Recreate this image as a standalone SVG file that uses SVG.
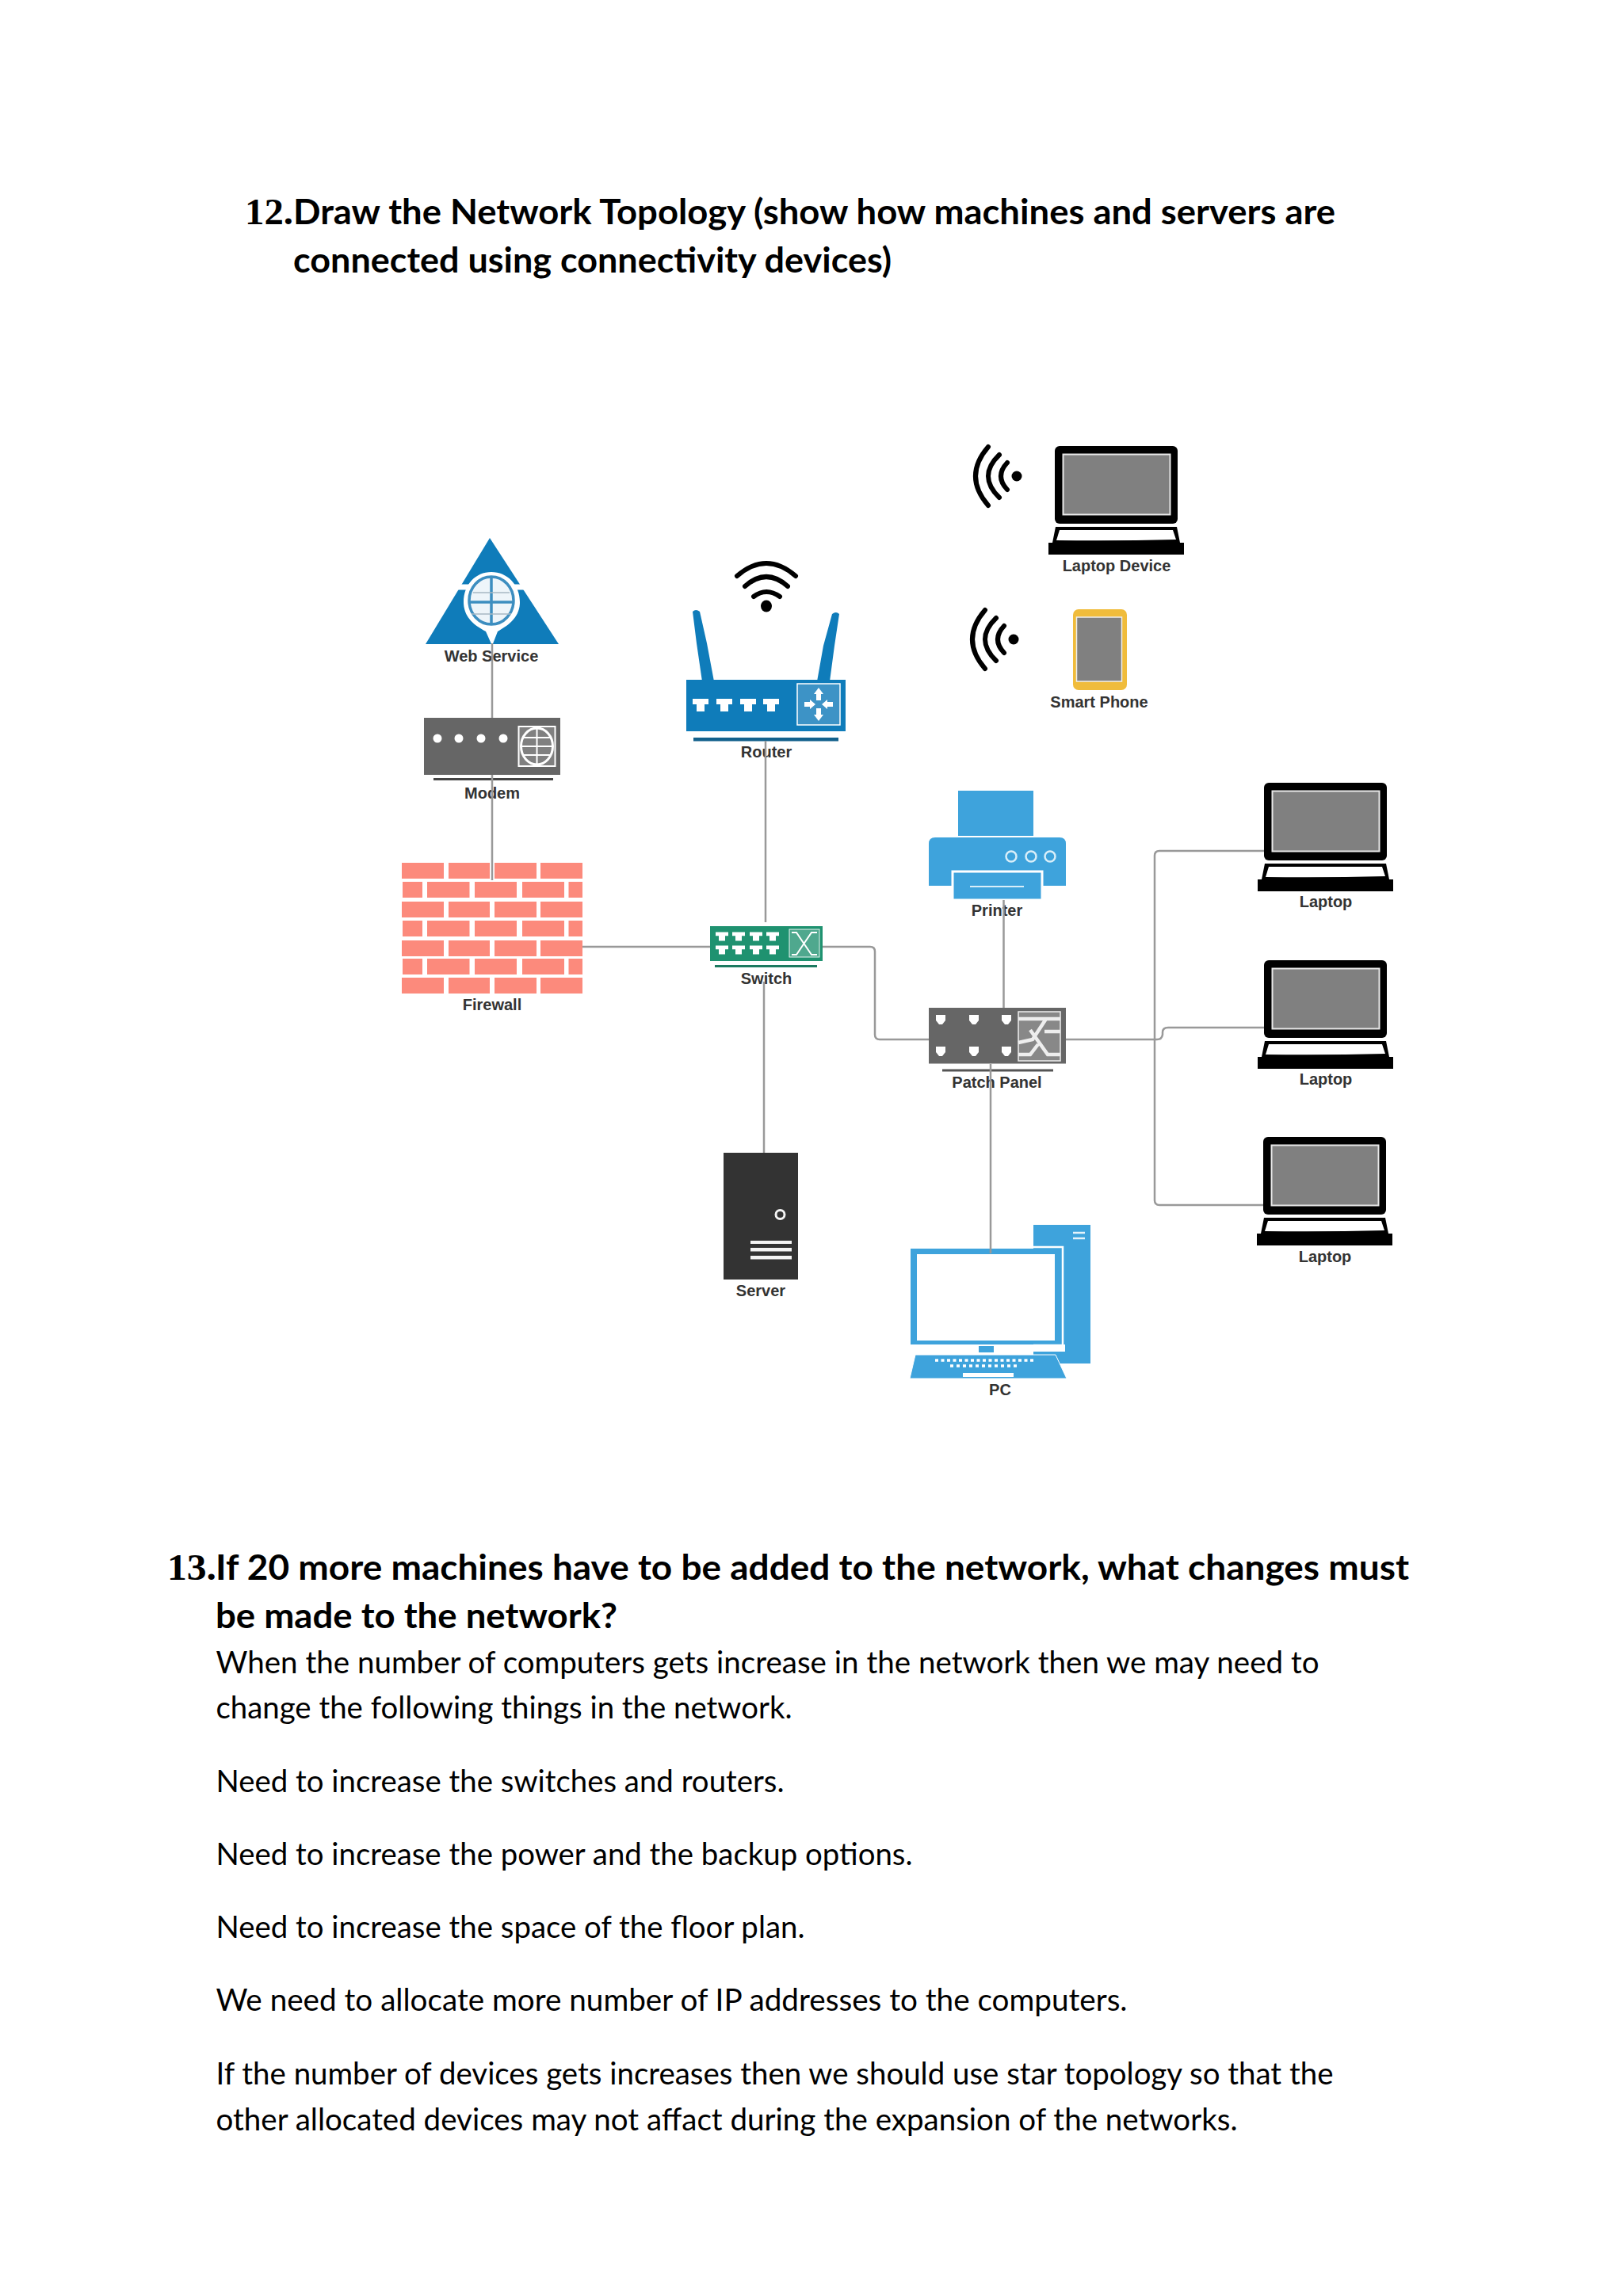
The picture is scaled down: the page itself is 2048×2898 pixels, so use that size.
<svg xmlns="http://www.w3.org/2000/svg" xmlns:xlink="http://www.w3.org/1999/xlink" width="2048" height="2898" viewBox="0 0 2048 2898">
<style>
.lbl{font-family:"Liberation Sans",Arial,sans-serif;font-weight:bold;font-size:20px;fill:#333;text-anchor:middle}
.h{font-family:Lato,"Open Sans",sans-serif;font-weight:bold;font-size:44px;fill:#000}
.n{font-family:"Liberation Serif",serif;font-weight:bold;font-size:46px;fill:#000}
.b{font-family:Lato,"Open Sans",sans-serif;font-size:38px;fill:#000}
.wire{fill:none;stroke:#999;stroke-width:2.5}
.arc{fill:none;stroke:#000;stroke-width:6;stroke-linecap:round}
.brick{fill:#fc8a7c}
</style>
<defs>
<g id="laptop">
<rect x="0" y="0" width="155" height="98" rx="6" fill="#000"/>
<rect x="10.500" y="10.500" width="135" height="76" fill="#808080" stroke="#e8e8e8" stroke-width="2"/>
<path d="M1,102H154L158,122H163V137H-8V122H-3Z" fill="#000"/>
<path d="M6,106H149L153,118Q78,120 2,119Z" fill="#fff"/>
</g>
<g id="wifiL">
<circle cx="0" cy="0" r="6.500" fill="#000"/>
<path class="arc" d="M-12,-17Q-28,0 -12,17"/>
<path class="arc" d="M-22,-27Q-50,0 -22,27"/>
<path class="arc" d="M-36,-37Q-68,0 -36,37"/>
</g>
<path id="tport" d="M-10,-8H10V-1H5V8H-5V-1H-10Z" fill="#fff"/>
<path id="pport" d="M-6,-6H6V1L2,6H-2L-6,1Z" fill="#fff"/>
<g id="row1">
<rect class="brick" x="0" width="53" height="20"/><rect class="brick" x="59" width="52" height="20"/><rect class="brick" x="117" width="53" height="20"/><rect class="brick" x="175" width="53" height="20"/>
</g>
<g id="row2">
<rect class="brick" x="1" width="25" height="20"/><rect class="brick" x="32" width="53.500" height="20"/><rect class="brick" x="92" width="53" height="20"/><rect class="brick" x="152" width="53" height="20"/><rect class="brick" x="210.500" width="17.500" height="20"/>
</g>
</defs>
<rect width="2048" height="2898" fill="#fff"/>

<g id="heading-12">
<text class="n" x="309" y="283" textLength="61" lengthAdjust="spacingAndGlyphs">12.</text>
<text class="h" x="370" y="283" textLength="1315" lengthAdjust="spacingAndGlyphs">Draw the Network Topology (show how machines and servers are</text>
<text class="h" x="370" y="344" textLength="755" lengthAdjust="spacingAndGlyphs">connected using connectivity devices)</text>
</g>

<g id="web-service">
<path d="M618,679L705,813H537Z" fill="#0f7cba"/>
<path d="M572,741H668" stroke="#fff" stroke-width="7"/>
<path d="M620,722C640,722 656,738 656,760C656,780 640,790 628,797L621,815L613,797C600,790 585,780 585,760C585,738 600,722 620,722Z" fill="#fff"/>
<ellipse cx="620" cy="758" rx="28" ry="30" fill="#eef5fa" stroke="#3d8ec0" stroke-width="3.500"/>
<path d="M620,728V788M592,760H648" stroke="#3d8ec0" stroke-width="3.500" fill="none"/>
<path d="M597,748H643M595,775H645" stroke="#a8b8c4" stroke-width="1.500" fill="none"/>
<text class="lbl" x="620" y="835">Web Service</text>
</g>

<g id="modem">
<rect x="535" y="906" width="172" height="72" fill="#666"/>
<circle cx="552" cy="932" r="5.500" fill="#fff"/><circle cx="579" cy="932" r="5.500" fill="#fff"/><circle cx="607" cy="932" r="5.500" fill="#fff"/><circle cx="635" cy="932" r="5.500" fill="#fff"/>
<rect x="654.500" y="917" width="46" height="50" fill="#808080" stroke="#fff" stroke-width="2"/>
<ellipse cx="677.500" cy="942" rx="20" ry="23" fill="none" stroke="#fff" stroke-width="3"/>
<path d="M677.500,919V965M657,942H698M660,931H695M660,953H695" stroke="#fff" stroke-width="2" fill="none"/>
<rect x="547" y="982" width="151" height="3" fill="#444"/>
<text class="lbl" x="621" y="1008">Modem</text>
</g>

<g id="router">
<path d="M874,772Q878,768 883,772L892,812L901,860H886L879,812Z" fill="#0f7cba"/>
<path d="M1050,775Q1055,771 1059,775L1053,815L1047,860H1031L1039,815Z" fill="#0f7cba"/>
<rect x="866" y="858" width="201" height="65" fill="#0f7cba"/>
<use xlink:href="#tport" href="#tport" x="884" y="890"/><use xlink:href="#tport" href="#tport" x="914" y="890"/><use xlink:href="#tport" href="#tport" x="944" y="890"/><use xlink:href="#tport" href="#tport" x="973" y="890"/>
<rect x="1006" y="863" width="54" height="52" fill="#3d93c6" stroke="#fff" stroke-width="1.500"/>
<path d="M1033,868L1039,876H1036V884H1030V876H1027ZM1033,910L1039,902H1036V894H1030V902H1027ZM1029,889L1022,883V886H1015V892H1022V895ZM1037,889L1044,883V886H1051V892H1044V895Z" fill="#fff"/>
<rect x="875" y="931" width="183" height="4.500" fill="#13618c"/>
<text class="lbl" x="967" y="956">Router</text>
<ellipse cx="967" cy="765" rx="7" ry="7.500" fill="#000"/>
<path class="arc" d="M951,753Q967,741 984,753"/>
<path class="arc" d="M940,740Q967,716 994,740"/>
<path class="arc" d="M930,727Q967,695 1004,727"/>
</g>

<g id="laptop-device">
<use xlink:href="#wifiL" href="#wifiL" x="1283" y="601"/>
<use xlink:href="#laptop" href="#laptop" x="1331" y="563"/>
<text class="lbl" x="1409" y="721">Laptop Device</text>
</g>

<g id="smart-phone">
<use xlink:href="#wifiL" href="#wifiL" x="1279" y="807"/>
<rect x="1354" y="769" width="68" height="102" rx="7" fill="#f0bc3c"/>
<rect x="1358.500" y="779" width="57" height="81" fill="#808080" stroke="#eee" stroke-width="1.500"/>
<text class="lbl" x="1387" y="893">Smart Phone</text>
</g>

<g id="firewall">
<use xlink:href="#row1" href="#row1" x="507" y="1089"/>
<use xlink:href="#row2" href="#row2" x="507" y="1113"/>
<use xlink:href="#row1" href="#row1" x="507" y="1138"/>
<use xlink:href="#row2" href="#row2" x="507" y="1162"/>
<use xlink:href="#row1" href="#row1" x="507" y="1187"/>
<use xlink:href="#row2" href="#row2" x="507" y="1210"/>
<use xlink:href="#row1" href="#row1" x="507" y="1234"/>
<text class="lbl" x="621" y="1275">Firewall</text>
</g>

<g id="switch">
<rect x="896" y="1169" width="142" height="44" fill="#1f9270"/>
<g transform="translate(911,1182) scale(.8,.7)"><use xlink:href="#tport" href="#tport"/></g>
<g transform="translate(932,1182) scale(.8,.7)"><use xlink:href="#tport" href="#tport"/></g>
<g transform="translate(954,1182) scale(.8,.7)"><use xlink:href="#tport" href="#tport"/></g>
<g transform="translate(975,1182) scale(.8,.7)"><use xlink:href="#tport" href="#tport"/></g>
<g transform="translate(911,1199) scale(.8,.7)"><use xlink:href="#tport" href="#tport"/></g>
<g transform="translate(932,1199) scale(.8,.7)"><use xlink:href="#tport" href="#tport"/></g>
<g transform="translate(954,1199) scale(.8,.7)"><use xlink:href="#tport" href="#tport"/></g>
<g transform="translate(975,1199) scale(.8,.7)"><use xlink:href="#tport" href="#tport"/></g>
<rect x="996" y="1173" width="38" height="35" fill="#4fa88e" stroke="#e8f4f0" stroke-width="1"/>
<path d="M999,1177H1005L1024,1205H1031M999,1205H1005L1024,1177H1031" stroke="#fff" stroke-width="2" fill="none"/>
<rect x="902" y="1218" width="129" height="3" fill="#1c7a60"/>
<text class="lbl" x="967" y="1242">Switch</text>
</g>

<g id="printer">
<rect x="1209" y="998" width="95" height="57" fill="#3ea3dc"/>
<path d="M1172,1065Q1172,1057 1180,1057H1337Q1345,1057 1345,1065V1118H1172Z" fill="#3ea3dc"/>
<circle cx="1276" cy="1081" r="6.500" fill="#3ea3dc" stroke="#d8eef9" stroke-width="2.500"/>
<circle cx="1301" cy="1081" r="6.500" fill="#3ea3dc" stroke="#d8eef9" stroke-width="2.500"/>
<circle cx="1325" cy="1081" r="6.500" fill="#3ea3dc" stroke="#d8eef9" stroke-width="2.500"/>
<rect x="1202" y="1100" width="113" height="36" fill="#3ea3dc" stroke="#fff" stroke-width="3"/>
<path d="M1224,1119H1292" stroke="#d8eef9" stroke-width="2"/>
<text class="lbl" x="1258" y="1156">Printer</text>
</g>

<g id="patch-panel">
<rect x="1172" y="1272" width="173" height="70.500" fill="#666"/>
<use xlink:href="#pport" href="#pport" x="1187" y="1287"/><use xlink:href="#pport" href="#pport" x="1229" y="1287"/><use xlink:href="#pport" href="#pport" x="1270" y="1287"/>
<use xlink:href="#pport" href="#pport" x="1187" y="1327"/><use xlink:href="#pport" href="#pport" x="1229" y="1327"/><use xlink:href="#pport" href="#pport" x="1270" y="1327"/>
<rect x="1285" y="1277" width="53" height="62" fill="#888" stroke="#eee" stroke-width="1.500"/>
<path d="M1285,1286H1338M1320,1286L1303,1312L1285,1316M1300,1300L1322,1331H1338M1285,1331H1300L1310,1318M1318,1302H1338" stroke="#eee" stroke-width="4.500" fill="none"/>
<rect x="1189" y="1349.500" width="140" height="3" fill="#555"/>
<text class="lbl" x="1258" y="1373">Patch Panel</text>
</g>

<g id="server">
<rect x="913" y="1455" width="94" height="160" fill="#333"/>
<circle cx="984.500" cy="1533" r="5.500" fill="#333" stroke="#f4f4f4" stroke-width="3"/>
<rect x="947" y="1566" width="52" height="4" fill="#f4f4f4"/><rect x="947" y="1575" width="52" height="4.500" fill="#f4f4f4"/><rect x="947" y="1585" width="52" height="4.500" fill="#f4f4f4"/>
<text class="lbl" x="960" y="1636">Server</text>
</g>

<g id="laptop-1">
<use xlink:href="#laptop" href="#laptop" x="1595" y="988"/>
<text class="lbl" x="1673" y="1145">Laptop</text>
</g>
<g id="laptop-2">
<use xlink:href="#laptop" href="#laptop" x="1595" y="1212"/>
<text class="lbl" x="1673" y="1369">Laptop</text>
</g>
<g id="laptop-3">
<use xlink:href="#laptop" href="#laptop" x="1594" y="1435"/>
<text class="lbl" x="1672" y="1593">Laptop</text>
</g>

<g id="pc">
<rect x="1304" y="1546" width="72" height="175" fill="#3ea3dc"/>
<path d="M1354,1556H1369M1354,1563H1369" stroke="#e4f3fb" stroke-width="2.500"/>
<rect x="1304" y="1697" width="40" height="9" fill="#fff"/>
<rect x="1149" y="1576" width="191" height="121" fill="#3ea3dc"/>
<path d="M1304,1574H1341V1698H1304" stroke="#fff" stroke-width="2.500" fill="none"/>
<rect x="1157" y="1583" width="174" height="109" fill="#fff"/>
<rect x="1235" y="1699" width="19" height="8" fill="#3ea3dc"/>
<path d="M1155,1710H1332L1346,1740H1148Z" fill="#3ea3dc" stroke="#fff" stroke-width="1"/>
<path d="M1180,1717H1304" stroke="#fff" stroke-width="3.500" stroke-dasharray="4 3.500" fill="none"/>
<path d="M1199,1724H1287" stroke="#fff" stroke-width="3.500" stroke-dasharray="4 4" fill="none"/>
<rect x="1215" y="1733" width="64" height="5" fill="#fff"/>
<text class="lbl" x="1262" y="1761">PC</text>
</g>

<g id="connectors">
<path class="wire" d="M621,812V906"/>
<path class="wire" d="M621,978V1111"/>
<path class="wire" d="M966,935V1164"/>
<path class="wire" d="M735,1195H896"/>
<path class="wire" d="M1038,1195H1098Q1104,1195 1104,1201V1306Q1104,1312 1110,1312H1172"/>
<path class="wire" d="M964,1239V1455"/>
<path class="wire" d="M1266.500,1136V1272"/>
<path class="wire" d="M1250,1343V1582"/>
<path class="wire" d="M1345,1312H1460Q1466,1312 1467,1306V1303Q1467,1297 1474,1297H1595"/>
<path class="wire" d="M1595,1074H1463Q1457,1074 1457,1080V1515Q1457,1521 1463,1521H1594"/>
</g>

<g id="heading-13">
<text class="n" x="211" y="1994" textLength="62" lengthAdjust="spacingAndGlyphs">13.</text>
<text class="h" x="272" y="1994" textLength="1506" lengthAdjust="spacingAndGlyphs">If 20 more machines have to be added to the network, what changes must</text>
<text class="h" x="272" y="2055" textLength="507" lengthAdjust="spacingAndGlyphs">be made to the network?</text>
</g>
<g id="answer">
<text class="b" x="272.500" y="2112" textLength="1392" lengthAdjust="spacingAndGlyphs">When the number of computers gets increase in the network then we may need to</text>
<text class="b" x="272.500" y="2169" textLength="727" lengthAdjust="spacingAndGlyphs">change the following things in the network.</text>
<text class="b" x="272.500" y="2262" textLength="717" lengthAdjust="spacingAndGlyphs">Need to increase the switches and routers.</text>
<text class="b" x="272.500" y="2354" textLength="879" lengthAdjust="spacingAndGlyphs">Need to increase the power and the backup options.</text>
<text class="b" x="272.500" y="2446" textLength="743" lengthAdjust="spacingAndGlyphs">Need to increase the space of the floor plan.</text>
<text class="b" x="272.500" y="2538" textLength="1150" lengthAdjust="spacingAndGlyphs">We need to allocate more number of IP addresses to the computers.</text>
<text class="b" x="272.500" y="2631" textLength="1410" lengthAdjust="spacingAndGlyphs">If the number of devices gets increases then we should use star topology so that the</text>
<text class="b" x="272.500" y="2689" textLength="1289" lengthAdjust="spacingAndGlyphs">other allocated devices may not affact during the expansion of the networks.</text>
</g>
</svg>
